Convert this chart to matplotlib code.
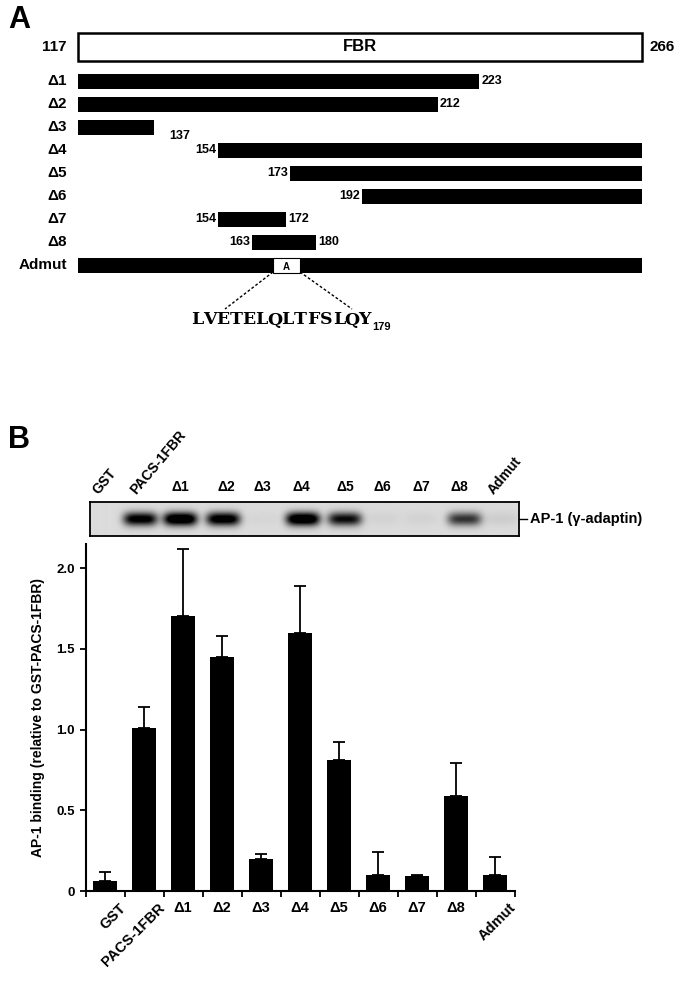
import numpy as np
import matplotlib
matplotlib.use("Agg")
import matplotlib.pyplot as plt
from matplotlib.patches import Rectangle

plt.rcParams['font.family'] = ['Liberation Sans', 'DejaVu Sans']
plt.rcParams['font.weight'] = 'bold'

# ---------------- data ----------------
fbr_start, fbr_end = 117, 266
construct_names = ["Δ1", "Δ2", "Δ3", "Δ4", "Δ5", "Δ6", "Δ7", "Δ8", "Admut"]
construct_start = [117, 117, 117, 154, 173, 192, 154, 163, 117]
construct_end = [223, 212, 137, 266, 266, 266, 172, 180, 266]
start_labels = ["", "", "", "154", "173", "192", "154", "163", ""]
end_labels = ["223", "212", "137", "", "", "", "172", "180", ""]
admut_box = (168.5, 175.7)
sequence = "LVETELQLTFSLQY"
seq_end = "179"

categories = ["GST", "PACS-1FBR", "Δ1", "Δ2", "Δ3", "Δ4", "Δ5", "Δ6", "Δ7", "Δ8", "Admut"]
binding = [0.06, 1.01, 1.70, 1.45, 0.20, 1.60, 0.81, 0.10, 0.09, 0.59, 0.10]
err = [0.06, 0.13, 0.42, 0.13, 0.03, 0.29, 0.11, 0.14, 0.01, 0.20, 0.11]
band_intensity = [0.0, 0.85, 1.0, 0.9, 0.02, 1.0, 0.75, 0.03, 0.03, 0.6, 0.05]
lane_label_x = [107, 144, 180, 226, 262, 301, 345, 382, 421, 459, 502]
band_x = [105, 140, 180, 223, 262, 303, 345, 383, 421, 465, 502]

W, H = 685, 981
fig = plt.figure(figsize=(W / 100, H / 100), dpi=100)

def frac(x0, y0, x1, y1):
    return [x0 / W, 1 - y1 / H, (x1 - x0) / W, (y1 - y0) / H]

ov = fig.add_axes([0, 0, 1, 1], zorder=5)
ov.set_xlim(0, W); ov.set_ylim(H, 0); ov.axis('off'); ov.patch.set_alpha(0)

# ---------------- Panel A ----------------
row_px0, row_step = 47, 23
ax_a = fig.add_axes(frac(78, row_px0 - 23, 642, row_px0 + 10.5 * row_step))
ax_a.set_xlim(fbr_start, fbr_end)
ax_a.set_ylim(10.5, -1)
ax_a.axis('off')
ax_a.add_patch(Rectangle((fbr_start, -0.6), fbr_end - fbr_start, 1.2,
                         facecolor='white', edgecolor='black', lw=1.8, clip_on=False))
ax_a.text((fbr_start + fbr_end) / 2, 0, "FBR", ha='center', va='center', fontsize=12, fontweight='bold')
ax_a.text(fbr_start - 3, 0, str(fbr_start), ha='right', va='center', fontsize=11)
ax_a.text(fbr_end + 2, 0, str(fbr_end), ha='left', va='center', fontsize=11)
bh = 0.62
for i, (nm, s, e, sl, el) in enumerate(zip(construct_names, construct_start, construct_end,
                                            start_labels, end_labels)):
    y = 1.5 + i
    ax_a.barh(y, e - s, left=s, height=bh, color='black', clip_on=False)
    ax_a.text(fbr_start - 3, y, nm, ha='right', va='center', fontsize=11)
    if sl:
        ax_a.text(s - 0.5, y, sl, ha='right', va='center', fontsize=9)
    if el:
        dy = 0.35 if nm == "Δ3" else 0
        ax_a.text(e + (4 if nm == "Δ3" else 0.5), y + dy, el, ha='left', va='center', fontsize=9)
ya = 1.5 + 8
ax_a.add_patch(Rectangle((admut_box[0], ya - bh / 2), admut_box[1] - admut_box[0], bh,
                         facecolor='white', edgecolor='black', lw=0.8, zorder=3))
ax_a.text(sum(admut_box) / 2, ya + 0.05, "A", ha='center', va='center', fontsize=7, zorder=4)
ov.plot([273, 225], [272, 309], ls=(0, (2, 1.5)), color='black', lw=1)
ov.plot([300, 352], [272, 309], ls=(0, (2, 1.5)), color='black', lw=1)
for k, ch in enumerate(sequence):
    ov.text(197 + 12.9 * k, 320, ch, ha='center', va='center', fontsize=12.5,
            fontfamily='DejaVu Serif', fontweight='bold')
ov.text(372, 327, seq_end, ha='left', va='center', fontsize=8)
ov.text(8, 20, "A", fontsize=22, fontweight='bold', ha='left', va='center')

# ---------------- Panel B: blot ----------------
ov.text(8, 440, "B", fontsize=22, fontweight='bold', ha='left', va='center')
bx0, bx1, by0, by1 = 90, 519, 502, 536
ax_blot = fig.add_axes(frac(bx0, by0, bx1, by1))
xs = np.linspace(bx0, bx1, 430)
ys = np.linspace(by0, by1, 34)
X, Y = np.meshgrid(xs, ys)
img = np.zeros_like(X)
for bxc, inten in zip(band_x, band_intensity):
    img += inten * np.exp(-((X - bxc) / 17) ** 4 - ((Y - 519) / 7) ** 2)
img = np.clip(img * 1.3, 0, 1)
gray = 0.86 - 0.86 * img
ax_blot.imshow(gray, cmap='gray', vmin=0, vmax=1, aspect='auto',
               extent=[bx0, bx1, by1, by0])
ax_blot.set_xticks([]); ax_blot.set_yticks([])
for sp in ax_blot.spines.values():
    sp.set_linewidth(1.3)
for lbl, lx in zip(categories, lane_label_x):
    if lbl.startswith("Δ"):
        ov.text(lx, 494, lbl, ha='center', va='bottom', fontsize=10)
    else:
        ov.annotate(lbl, (lx - 6, 497), ha='left', va='bottom', fontsize=10,
                    rotation=50, rotation_mode='anchor', annotation_clip=False)
ov.plot([519, 527], [519, 519], color='black', lw=1)
ov.text(530, 519, "AP-1 (γ-adaptin)", ha='left', va='center', fontsize=10.5)

# ---------------- Panel B: bar chart ----------------
ax_b = fig.add_axes(frac(85.5, 891 - 2.15 * 161.5, 514.5, 891))
x = np.arange(len(categories))
ax_b.bar(x, binding, width=0.6, color='black', zorder=2)
ax_b.errorbar(x, binding, yerr=[np.zeros(len(err)), err], fmt='none', ecolor='black',
              elinewidth=1.3, capsize=4, capthick=1.3, zorder=1)
ax_b.set_xlim(-0.5, len(categories) - 0.5)
ax_b.set_ylim(0, 2.15)
ax_b.spines['top'].set_visible(False)
ax_b.spines['right'].set_visible(False)
ax_b.spines['left'].set_linewidth(1.5)
ax_b.spines['bottom'].set_linewidth(1.5)
ax_b.set_yticks([0, 0.5, 1.0, 1.5, 2.0])
ax_b.set_yticklabels(["0", "0.5", "1.0", "1.5", "2.0"], fontsize=9.5, fontweight='bold')
ax_b.set_xticks(np.arange(len(categories) + 1) - 0.5)
ax_b.set_xticklabels([])
ax_b.tick_params(axis='both', width=1.3, length=4)
for xi, lbl in zip(x, categories):
    if lbl.startswith("Δ"):
        ax_b.text(xi, -0.06, lbl, ha='center', va='top', fontsize=10.5)
    else:
        ax_b.text(xi + 0.35, -0.06, lbl, ha='right', va='top', fontsize=10.5,
                  rotation=45, rotation_mode='anchor')
ax_b.set_ylabel("AP-1 binding (relative to GST-PACS-1FBR)", fontsize=10, fontweight='bold', labelpad=8)

fig.savefig("out.png", dpi=100)
